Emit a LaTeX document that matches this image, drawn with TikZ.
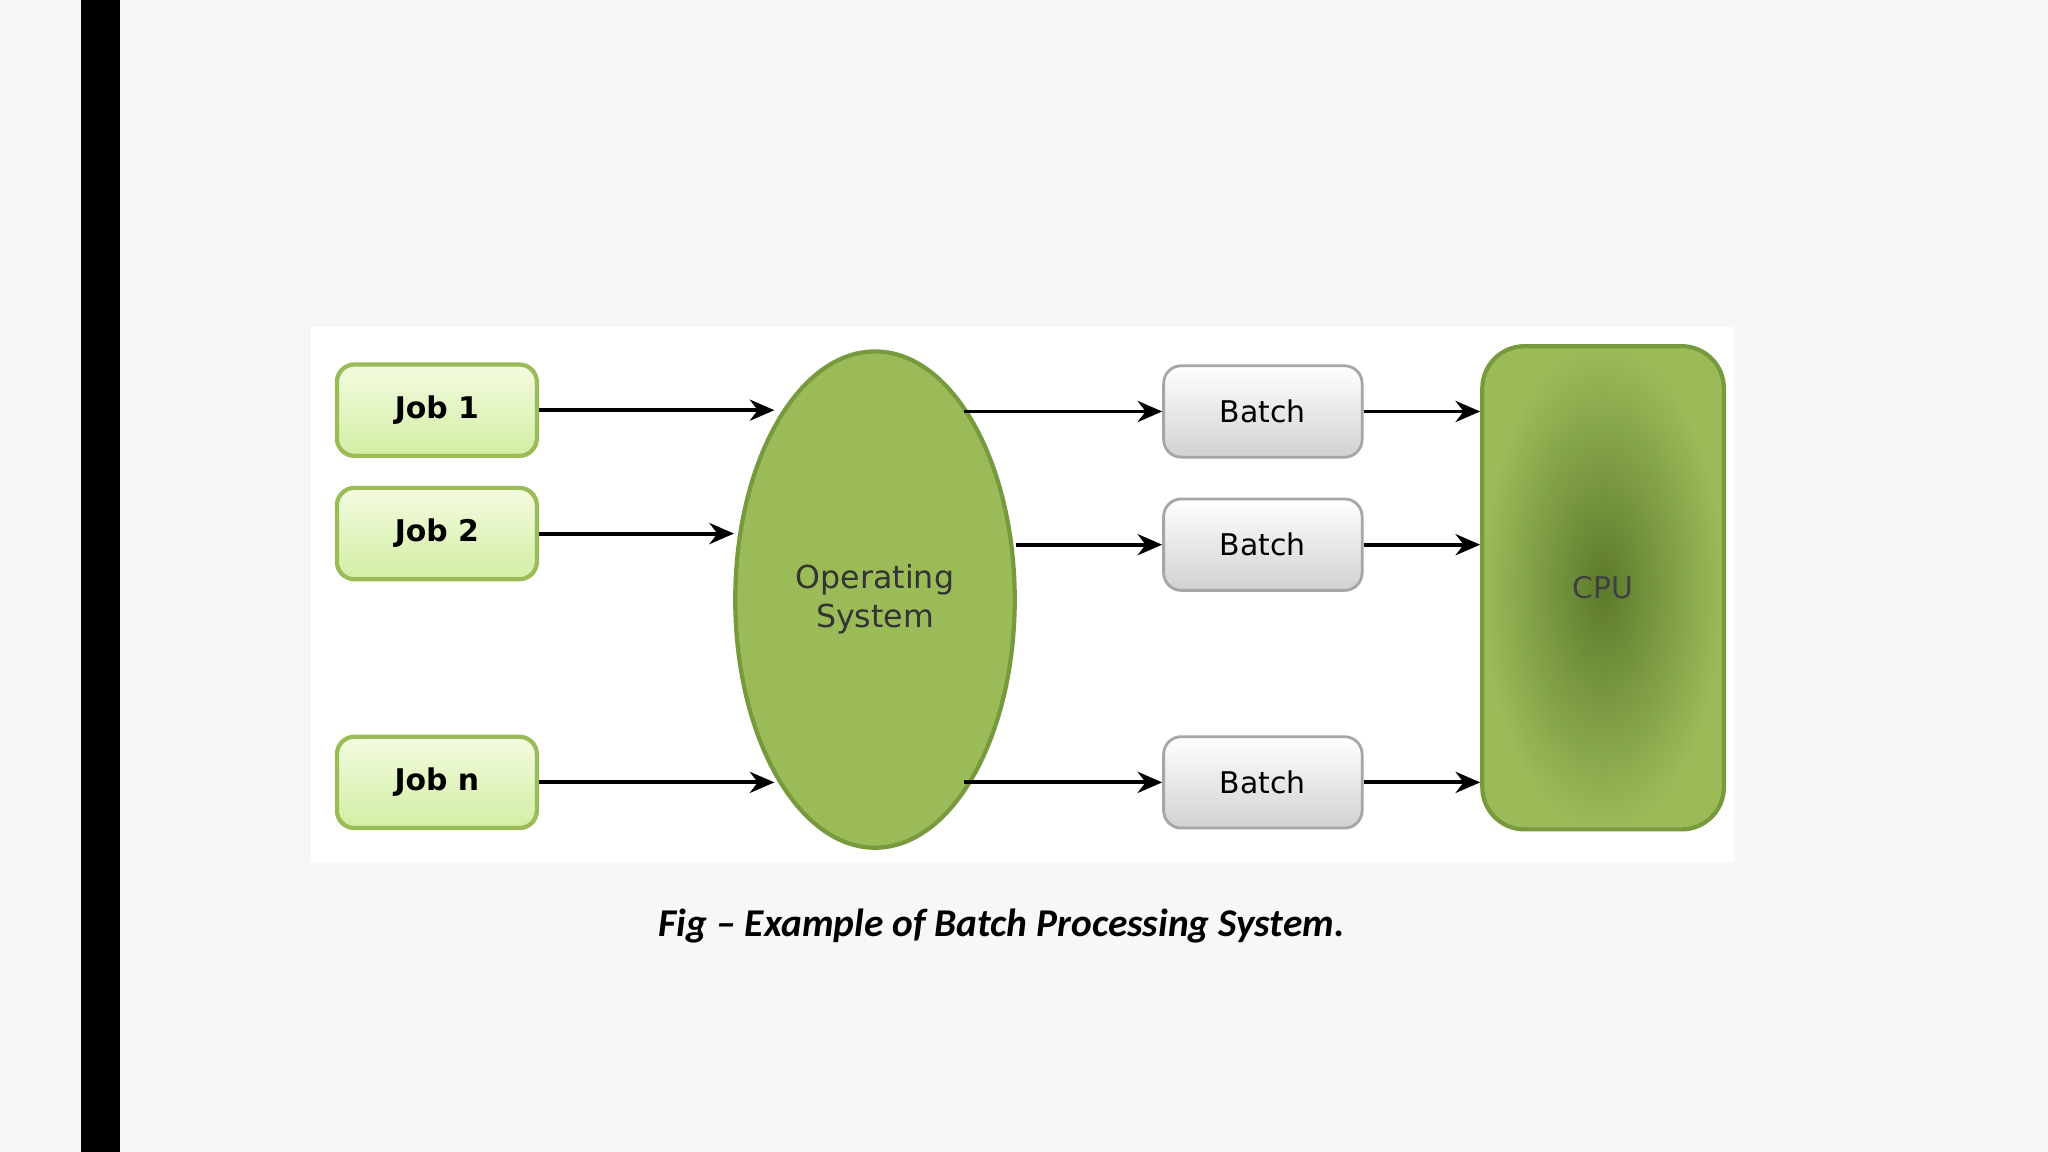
\documentclass[tikz,border=0pt]{standalone}
\usepackage{fontspec}
\setmainfont{DejaVu Sans}
\newfontfamily\capfont{Carlito}
\usetikzlibrary{shapes.geometric,arrows.meta}
\definecolor{pagegray}{HTML}{F7F7F7}
\definecolor{jobline}{HTML}{9BBB59}
\definecolor{jobtop}{HTML}{F3FBE0}
\definecolor{jobbot}{HTML}{D3EEA3}
\definecolor{osfill}{HTML}{9BBB59}
\definecolor{osline}{HTML}{789A3E}
\definecolor{batchline}{HTML}{A6A6A6}
\definecolor{cpuin}{HTML}{5C7A2C}
\begin{document}
\begin{tikzpicture}[
      job/.style={rounded corners=5pt, draw=jobline, line width=1.2pt, top color=jobtop, bottom color=jobbot,
        minimum width=2cm, minimum height=0.914cm, font=\fontsize{8.5}{10}\selectfont\bfseries},
      batch/.style={rounded corners=5pt, draw=batchline, line width=0.8pt, top color=white, bottom color=black!18,
        minimum width=1.985cm, minimum height=0.914cm, font=\fontsize{8.5}{10}\selectfont},
      flow/.style={-{Stealth[length=7pt,width=6pt]}, line width=1.1pt, black}
    ]
    % page and panel
    \fill[pagegray] (0,0) rectangle (20.48,11.52);
    \useasboundingbox (0,0) rectangle (20.48,11.52);
    \fill[black] (0.810,0) rectangle (1.202,11.52);
    \fill[white] (3.108,2.899) rectangle (17.344,8.254);
    
    % jobs
    \node[job] (j1) at (4.369,7.418) {Job 1};
    \node[job] (j2) at (4.369,6.184) {Job 2};
    \node[job] (jn) at (4.369,3.696) {Job n};
    
    % operating system
    \node[ellipse, draw=osline, line width=1.2pt, fill=osfill, minimum width=2.795cm, minimum height=4.963cm,
      align=center, font=\fontsize{9}{11}\selectfont, text=black!80] (os) at (8.750,5.524) {Operating\\System};
    
    % batches
    \node[batch] (b1) at (12.629,7.405) {Batch};
    \node[batch] (b2) at (12.629,6.073) {Batch};
    \node[batch] (bn) at (12.629,3.696) {Batch};
    
    % cpu
    \node[rounded corners=12pt, draw=osline, line width=1.2pt, inner color=cpuin, outer color=osfill,
      minimum width=2.416cm, minimum height=4.832cm, font=\fontsize{8.5}{10}\selectfont, text=black!75] (cpu) at (16.031,5.642) {CPU};
    
    % entry and exit points on the ellipse
    \coordinate (in1) at (7.744,7.418);
    \coordinate (in2) at (7.340,6.184);
    \coordinate (inn) at (7.744,3.696);
    \coordinate (out1) at (9.638,7.405);
    \coordinate (out2) at (10.161,6.073);
    \coordinate (outn) at (9.638,3.696);
    
    \draw[flow] (j1.east) -- (in1);
    \draw[flow] (j2.east) -- (in2);
    \draw[flow] (jn.east) -- (inn);
    \draw[flow] (out1) -- (b1.west);
    \draw[flow] (out2) -- (b2.west);
    \draw[flow] (outn) -- (bn.west);
    \foreach \b in {b1,b2,bn} {
      \draw[flow] (\b.east) -- (\b.east -| cpu.west);
    }
    
    % caption
    \node[font=\capfont\fontsize{11.2}{13}\selectfont\bfseries\itshape] (cap) at (10.017,2.259) {Fig \textendash{} Example of Batch Processing System.};
  \end{tikzpicture}
\end{document}
